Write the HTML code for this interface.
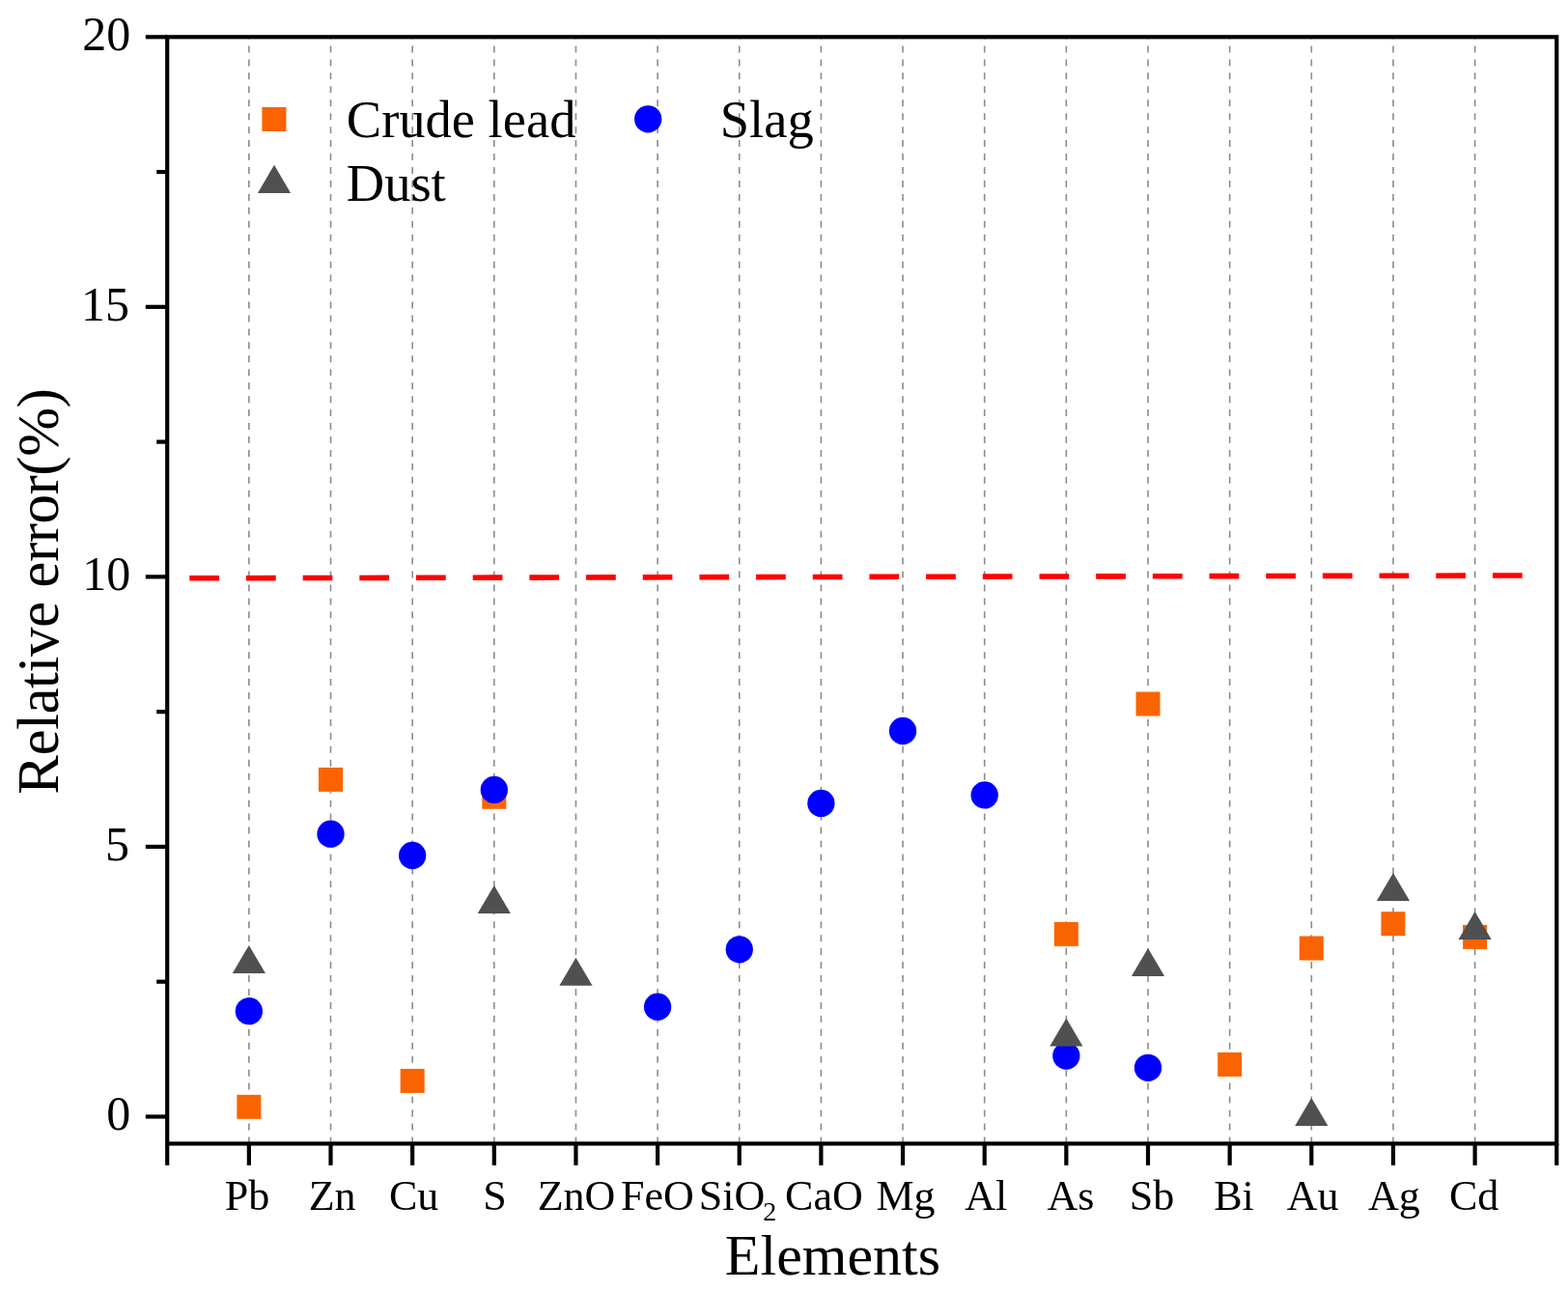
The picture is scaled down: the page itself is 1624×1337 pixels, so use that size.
<!DOCTYPE html><html><head><meta charset="utf-8"><title>Relative error</title><style>html,body{margin:0;padding:0;background:#fff;}svg{display:block;}text{font-family:"Liberation Serif","Times New Roman",serif;fill:#000;}</style></head><body><svg width="1624" height="1337" viewBox="0 0 1624 1337"><rect width="1624" height="1337" fill="#fff"/><g stroke="#8c8c8c" stroke-width="1.6" stroke-dasharray="7 6.95"><line x1="257.85" y1="1184.40" x2="257.85" y2="38.30"/><line x1="342.50" y1="1184.40" x2="342.50" y2="38.30"/><line x1="427.15" y1="1184.40" x2="427.15" y2="38.30"/><line x1="511.80" y1="1184.40" x2="511.80" y2="38.30"/><line x1="596.45" y1="1184.40" x2="596.45" y2="38.30"/><line x1="681.10" y1="1184.40" x2="681.10" y2="38.30"/><line x1="765.75" y1="1184.40" x2="765.75" y2="38.30"/><line x1="850.40" y1="1184.40" x2="850.40" y2="38.30"/><line x1="935.05" y1="1184.40" x2="935.05" y2="38.30"/><line x1="1019.70" y1="1184.40" x2="1019.70" y2="38.30"/><line x1="1104.35" y1="1184.40" x2="1104.35" y2="38.30"/><line x1="1189.00" y1="1184.40" x2="1189.00" y2="38.30"/><line x1="1273.65" y1="1184.40" x2="1273.65" y2="38.30"/><line x1="1358.30" y1="1184.40" x2="1358.30" y2="38.30"/><line x1="1442.95" y1="1184.40" x2="1442.95" y2="38.30"/><line x1="1527.60" y1="1184.40" x2="1527.60" y2="38.30"/></g><line x1="196.3" y1="598.8" x2="1577" y2="596.0" stroke="#FF0000" stroke-width="5.6" stroke-dasharray="30.7 27.98"/><rect x="245.35" y="1133.80" width="25.0" height="25.0" fill="#FA6400"/><rect x="330.00" y="794.90" width="25.0" height="25.0" fill="#FA6400"/><rect x="414.65" y="1106.90" width="25.0" height="25.0" fill="#FA6400"/><rect x="499.30" y="812.80" width="25.0" height="25.0" fill="#FA6400"/><rect x="1091.85" y="954.90" width="25.0" height="25.0" fill="#FA6400"/><rect x="1176.50" y="716.50" width="25.0" height="25.0" fill="#FA6400"/><rect x="1261.15" y="1089.90" width="25.0" height="25.0" fill="#FA6400"/><rect x="1345.80" y="969.50" width="25.0" height="25.0" fill="#FA6400"/><rect x="1430.45" y="944.20" width="25.0" height="25.0" fill="#FA6400"/><rect x="1515.10" y="957.90" width="25.0" height="25.0" fill="#FA6400"/><circle cx="257.85" cy="1047.20" r="14.15" fill="#0000FF"/><circle cx="342.50" cy="863.70" r="14.15" fill="#0000FF"/><circle cx="427.15" cy="886.00" r="14.15" fill="#0000FF"/><circle cx="511.80" cy="817.90" r="14.15" fill="#0000FF"/><circle cx="681.10" cy="1042.70" r="14.15" fill="#0000FF"/><circle cx="765.75" cy="983.30" r="14.15" fill="#0000FF"/><circle cx="850.40" cy="831.90" r="14.15" fill="#0000FF"/><circle cx="935.05" cy="757.00" r="14.15" fill="#0000FF"/><circle cx="1019.70" cy="823.40" r="14.15" fill="#0000FF"/><circle cx="1104.35" cy="1093.50" r="14.15" fill="#0000FF"/><circle cx="1189.00" cy="1105.80" r="14.15" fill="#0000FF"/><polygon points="257.85,978.90 274.95,1007.90 240.75,1007.90" fill="#505050"/><polygon points="511.80,916.90 528.90,945.90 494.70,945.90" fill="#505050"/><polygon points="596.45,991.80 613.55,1020.80 579.35,1020.80" fill="#505050"/><polygon points="1104.35,1054.50 1121.45,1083.50 1087.25,1083.50" fill="#505050"/><polygon points="1189.00,981.90 1206.10,1010.90 1171.90,1010.90" fill="#505050"/><polygon points="1358.30,1137.00 1375.40,1166.00 1341.20,1166.00" fill="#505050"/><polygon points="1442.95,903.90 1460.05,932.90 1425.85,932.90" fill="#505050"/><polygon points="1527.60,944.00 1544.70,973.00 1510.50,973.00" fill="#505050"/><g stroke="#000" stroke-width="4.2" fill="none" stroke-linecap="square"><rect x="173.20" y="38.30" width="1439.05" height="1146.10"/></g><g stroke="#000" stroke-width="4.2"><line x1="150.8" y1="1156.45" x2="173.20" y2="1156.45"/><line x1="150.8" y1="876.91" x2="173.20" y2="876.91"/><line x1="150.8" y1="597.37" x2="173.20" y2="597.37"/><line x1="150.8" y1="317.84" x2="173.20" y2="317.84"/><line x1="150.8" y1="38.30" x2="173.20" y2="38.30"/><line x1="162.2" y1="1016.68" x2="173.20" y2="1016.68"/><line x1="162.2" y1="737.14" x2="173.20" y2="737.14"/><line x1="162.2" y1="457.60" x2="173.20" y2="457.60"/><line x1="162.2" y1="178.07" x2="173.20" y2="178.07"/><line x1="173.20" y1="1184.40" x2="173.20" y2="1206.8"/><line x1="257.85" y1="1184.40" x2="257.85" y2="1206.8"/><line x1="342.50" y1="1184.40" x2="342.50" y2="1206.8"/><line x1="427.15" y1="1184.40" x2="427.15" y2="1206.8"/><line x1="511.80" y1="1184.40" x2="511.80" y2="1206.8"/><line x1="596.45" y1="1184.40" x2="596.45" y2="1206.8"/><line x1="681.10" y1="1184.40" x2="681.10" y2="1206.8"/><line x1="765.75" y1="1184.40" x2="765.75" y2="1206.8"/><line x1="850.40" y1="1184.40" x2="850.40" y2="1206.8"/><line x1="935.05" y1="1184.40" x2="935.05" y2="1206.8"/><line x1="1019.70" y1="1184.40" x2="1019.70" y2="1206.8"/><line x1="1104.35" y1="1184.40" x2="1104.35" y2="1206.8"/><line x1="1189.00" y1="1184.40" x2="1189.00" y2="1206.8"/><line x1="1273.65" y1="1184.40" x2="1273.65" y2="1206.8"/><line x1="1358.30" y1="1184.40" x2="1358.30" y2="1206.8"/><line x1="1442.95" y1="1184.40" x2="1442.95" y2="1206.8"/><line x1="1527.60" y1="1184.40" x2="1527.60" y2="1206.8"/><line x1="1612.25" y1="1184.40" x2="1612.25" y2="1206.8"/></g><text x="135.30" y="1170.25" font-size="50" text-anchor="end">0</text><text x="134.00" y="890.71" font-size="50" text-anchor="end">5</text><text x="135.30" y="611.17" font-size="50" text-anchor="end">10</text><text x="134.00" y="331.64" font-size="50" text-anchor="end">15</text><text x="135.30" y="52.10" font-size="50" text-anchor="end">20</text><text x="255.90" y="1253.2" font-size="44" text-anchor="middle">Pb</text><text x="344.10" y="1253.2" font-size="44" text-anchor="middle">Zn</text><text x="428.65" y="1253.2" font-size="44" text-anchor="middle">Cu</text><text x="512.55" y="1253.2" font-size="44" text-anchor="middle">S</text><text x="597.05" y="1253.2" font-size="44" text-anchor="middle">ZnO</text><text x="680.80" y="1253.2" font-size="44" text-anchor="middle">FeO</text><text x="764.05" y="1253.2" font-size="44" text-anchor="middle">SiO<tspan font-size='28' dx='-2' dy='11'>2</tspan></text><text x="853.45" y="1253.2" font-size="44" text-anchor="middle">CaO</text><text x="938.05" y="1253.2" font-size="44" text-anchor="middle">Mg</text><text x="1021.15" y="1253.2" font-size="44" text-anchor="middle">Al</text><text x="1109.00" y="1253.2" font-size="44" text-anchor="middle">As</text><text x="1193.05" y="1253.2" font-size="44" text-anchor="middle">Sb</text><text x="1277.95" y="1253.2" font-size="44" text-anchor="middle">Bi</text><text x="1359.70" y="1253.2" font-size="44" text-anchor="middle">Au</text><text x="1443.90" y="1253.2" font-size="44" text-anchor="middle">Ag</text><text x="1526.60" y="1253.2" font-size="44" text-anchor="middle">Cd</text><text x="862.5" y="1319.5" font-size="60" text-anchor="middle">Elements</text><text transform="translate(60.1 612.7) rotate(-90)" font-size="61" letter-spacing="-0.5" text-anchor="middle">Relative error(%)</text><rect x="271.4" y="111" width="25.0" height="25.0" fill="#FA6400"/><circle cx="671.2" cy="123.3" r="14.15" fill="#0000FF"/><polygon points="284,170.8 301.1,199.9 266.9,199.9" fill="#505050"/><text x="358.8" y="142.4" font-size="54.5">Crude lead</text><text x="745.8" y="141.8" font-size="54.5">Slag</text><text x="358.8" y="208" font-size="54.5">Dust</text></svg></body></html>
